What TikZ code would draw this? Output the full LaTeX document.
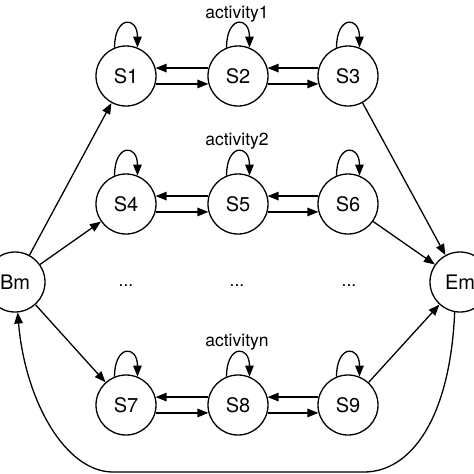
\documentclass[tikz,border=0pt]{standalone}
\usepackage{fontspec}
\setmainfont{TeX Gyre Heros}
\usetikzlibrary{arrows.meta}
\begin{document}
\begin{tikzpicture}[x=1pt,y=-1pt,
  st/.style={circle,draw,line width=1.3pt,minimum size=60pt,inner sep=0pt,font=\fontsize{20}{22}\selectfont},
  lab/.style={font=\fontsize{17.5}{20}\selectfont,anchor=base,inner sep=0pt},
  arr/.style={-{Triangle[length=11pt,width=8.5pt]},line width=1.3pt},
]
\useasboundingbox (0,0) rectangle (474,474);
% states
\node[st] (S1) at (126,76) {S1};
\node[st] (S2) at (238,76) {S2};
\node[st] (S3) at (348,76) {S3};
\node[st] (S4) at (126,204) {S4};
\node[st] (S5) at (238,204) {S5};
\node[st] (S6) at (348,204) {S6};
\node[st] (S7) at (126,405) {S7};
\node[st] (S8) at (238,405) {S8};
\node[st] (S9) at (348,405) {S9};
\node[st] (Bm) at (15,282) {Bm};
\node[st] (Em) at (460,282) {Em};
% labels
\node[lab] (a1) at (237,18) {activity1};
\node[lab] (a2) at (237,145) {activity2};
\node[lab] (an) at (237,346) {activityn};
\node[lab] (d1) at (126,286) {...};
\node[lab] (d2) at (237,286) {...};
\node[lab] (d3) at (349,286) {...};
% chains
\foreach \a/\b in {S1/S2,S2/S3,S4/S5,S5/S6,S7/S8,S8/S9}{
  \draw[arr] (\a.-15) -- (\b.195);
  \draw[arr] (\b.165) -- (\a.15);
}
% self loops
\foreach \s in {S1,S2,S3,S4,S5,S6,S7,S8,S9}{
  \draw[arr] (\s.112) .. controls +(0,-32) and +(0,-32) .. (\s.68);
}
% begin / end
\draw[arr] (Bm) -- (S1);
\draw[arr] (Bm) -- (S4);
\draw[arr] (Bm) -- (S7);
\draw[arr] (S3) -- (Em);
\draw[arr] (S6) -- (Em);
\draw[arr] (S9) -- (Em);
% return
\coordinate (r1) at (364,472);
\coordinate (r2) at (113,472);
\draw[arr] (Em.-100) .. controls (450,420) and (410,472) .. (r1) -- (r2)
  .. controls (65,472) and (25,400) .. (Bm.-85);
\end{tikzpicture}
\end{document}
